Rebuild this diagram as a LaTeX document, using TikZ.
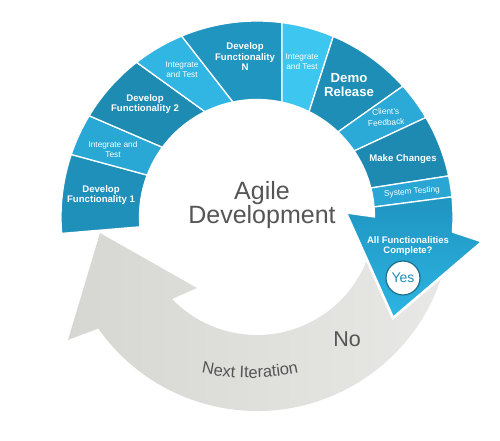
\documentclass[tikz,border=0pt]{standalone}
\usepackage{fontspec}
\setmainfont{Liberation Sans}
\usetikzlibrary{decorations.text}
\definecolor{dfA}{HTML}{1F90B9}
\definecolor{dfB}{HTML}{1E8BB3}
\definecolor{dfN}{HTML}{1F95BF}
\definecolor{dfD}{HTML}{1E8EB6}
\definecolor{dfM}{HTML}{1E8AB1}
\definecolor{itA}{HTML}{2AA8D5}
\definecolor{itB}{HTML}{31B6E4}
\definecolor{itC}{HTML}{3CC6F0}
\definecolor{itD}{HTML}{2BA9D7}
\definecolor{itE}{HTML}{2AA6D4}
\definecolor{arTop}{HTML}{1F94C0}
\definecolor{arBot}{HTML}{2DB5E3}
\definecolor{greyA}{HTML}{D6D6D2}
\definecolor{greyB}{HTML}{E8E8E6}
\definecolor{txtgray}{HTML}{555555}
\definecolor{yesring}{HTML}{1B6E8C}
\definecolor{yestext}{HTML}{1F8DB5}
\begin{document}
\begin{tikzpicture}[x=1pt,y=1pt,
  segline/.style={draw=white, line width=1.3pt, line join=round},
  lbold/.style={text=white, font=\fontsize{9.6}{10.5}\selectfont\bfseries, align=center, inner sep=0pt},
  lreg/.style={text=white, font=\fontsize{8.3}{10}\selectfont, align=center, inner sep=0pt}]
\useasboundingbox (-257,-224) rectangle (243,217);
% grey return arrow
\shade[left color=greyA, right color=greyB]
  (-10:194) arc[start angle=-10, end angle=-144.9, radius=194]
  -- (-189,-123) -- (-157,-16) -- (-60,-71)
  -- (224:118) arc[start angle=224, end angle=350, radius=118] -- cycle;
% blue ring segments
\fill[dfA, segline] (184.8:196) arc[start angle=184.8, end angle=161.4, radius=196]
  -- (159.1:117.5) arc[start angle=159.1, end angle=184.8, radius=117.5] -- cycle;
\fill[itA, segline] (161.4:196) arc[start angle=161.4, end angle=148.9, radius=196]
  -- (143.6:117.5) arc[start angle=143.6, end angle=159.1, radius=117.5] -- cycle;
\fill[dfB, segline] (148.9:196) arc[start angle=148.9, end angle=127.9, radius=196]
  -- (116.3:117.5) arc[start angle=116.3, end angle=143.6, radius=117.5] -- cycle;
\fill[itB, segline] (127.9:196) arc[start angle=127.9, end angle=112.6, radius=196]
  -- (101.8:117.5) arc[start angle=101.8, end angle=116.3, radius=117.5] -- cycle;
\fill[dfN, segline] (112.6:196) arc[start angle=112.6, end angle=82.7, radius=196]
  -- (77.7:117.5) arc[start angle=77.7, end angle=101.8, radius=117.5] -- cycle;
\fill[itC, segline] (82.7:196) arc[start angle=82.7, end angle=67.1, radius=196]
  -- (63.7:117.5) arc[start angle=63.7, end angle=77.7, radius=117.5] -- cycle;
\fill[dfD, segline] (67.1:196) arc[start angle=67.1, end angle=41.9, radius=196]
  -- (46.4:117.5) arc[start angle=46.4, end angle=63.7, radius=117.5] -- cycle;
\fill[itD, segline] (41.9:196) arc[start angle=41.9, end angle=30.5, radius=196]
  -- (34.2:117.5) arc[start angle=34.2, end angle=46.4, radius=117.5] -- cycle;
\fill[dfM, segline] (30.5:196) arc[start angle=30.5, end angle=12.1, radius=196]
  -- (14.3:117.5) arc[start angle=14.3, end angle=34.2, radius=117.5] -- cycle;
\fill[itE, segline] (12.1:196) arc[start angle=12.1, end angle=5.9, radius=196]
  -- (4.9:117.5) arc[start angle=4.9, end angle=14.3, radius=117.5] -- cycle;
% blue arrow head segment
\path[top color=arTop, bottom color=arBot, segline]
  (5.9:196) arc[start angle=5.9, end angle=-4.4, radius=196]
  -- (225,-25) -- (136,-101) -- (89,4)
  -- (0:117.5) arc[start angle=0, end angle=4.9, radius=117.5] -- cycle;
\draw[white, line width=2.6pt, line join=miter] (225,-25) -- (136,-101) -- (89,4);
% labels
\node[lbold] (df1) at (-156,22) {Develop\\Functionality 1};
\node[lreg] (it1) at (-144,67) {Integrate and\\Test};
\node[lbold] (df2) at (-112,113) {Develop\\Functionality 2};
\node[lreg] (it2) at (-75,147) {Integrate\\and Test};
\node[lbold] (dfn) at (-12,160) {Develop\\Functionality\\N};
\node[lreg] (it3) at (45,155) {Integrate\\and Test};
\node[lbold, font=\fontsize{13.2}{14}\selectfont\bfseries] (demo) at (92,132) {Demo\\Release};
\node[lreg, font=\fontsize{8.3}{10.8}\selectfont, rotate=3] (client) at (129,100) {Client’s\\Feedback};
\node[lbold] (make) at (146,58) {Make Changes};
\node[lreg, font=\fontsize{8.2}{10}\selectfont, rotate=5] (sys) at (155,25) {System Testing};
\node[lbold, font=\fontsize{9.5}{10.3}\selectfont\bfseries] (allf) at (151,-29) {All Functionalities\\Complete?};
\node[circle, draw=yesring, fill=white, line width=1.2pt, minimum size=34pt, inner sep=0pt,
  font=\fontsize{14}{14}\selectfont, text=yestext] (yes) at (146,-61) {Yes};
\node[font=\fontsize{25}{21.5}\selectfont, text=txtgray, align=center] (agile) at (5,12) {Agile\\Development};
\node[font=\fontsize{21.5}{22}\selectfont, text=txtgray] (no) at (90,-122) {No};
\path[decorate, decoration={text along path, text align=center,
  text={|\fontsize{16.5}{18}\selectfont\color{txtgray}|Next Iteration}}]
  (-7,69) ++(250:230) arc[start angle=250, end angle=290, radius=230];
\end{tikzpicture}
\end{document}
